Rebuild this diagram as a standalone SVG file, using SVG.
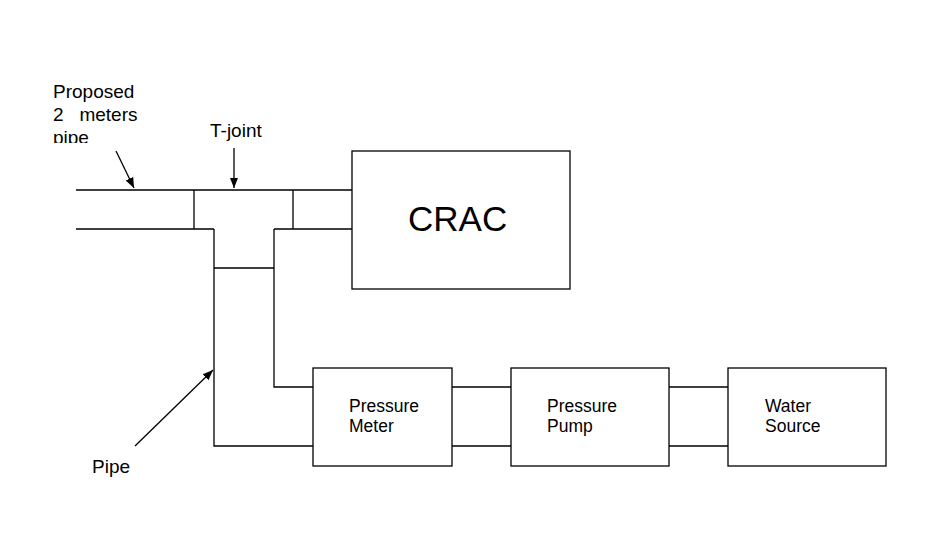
<svg xmlns="http://www.w3.org/2000/svg" width="925" height="557" viewBox="0 0 925 557">
<style>
.l{stroke:#000;stroke-width:1.3;fill:none}
.b{stroke:#000;stroke-width:1.3;fill:#fff}
text{font-family:"Liberation Sans",Arial,sans-serif;fill:#000}
.s{font-size:17.5px}
.o{font-size:19px}
</style>
<defs>
<marker id="a" viewBox="0 0 10 10" refX="10" refY="5" markerWidth="8" markerHeight="8" orient="auto"><path d="M0,1 L10,5 L0,9 z" fill="#000"/></marker>
<clipPath id="c"><rect x="0" y="0" width="200" height="143"/></clipPath>
</defs>
<rect width="925" height="557" fill="#fff"/>
<g id="connectors">
<path class="l" d="M76,190 H352 M76,229 H194 V190 M293,190 V229 M274,229 H352 M214,229 V446 H313 M274,229 V387 H313 M214,268 H274 M194,229 H214"/>
<path class="l" d="M452,387 H511 M452,446 H511 M669,387 H728 M669,446 H728"/>
<path class="l" d="M116,151 L134,188" marker-end="url(#a)"/>
<path class="l" d="M234,148 L234,188" marker-end="url(#a)"/>
<path class="l" d="M135,446 L213,370" marker-end="url(#a)"/>
</g>
<g id="labels">
<g clip-path="url(#c)">
<text class="o" x="53" y="98">Proposed</text>
<text class="o" x="53" y="121" xml:space="preserve">2   meters</text>
<text class="o" x="53" y="144">pipe</text>
</g>
<text class="o" x="210" y="137">T-joint</text>
<text class="o" x="92" y="473">Pipe</text>
</g>
<g id="crac"><rect class="b" x="352" y="151" width="218" height="138"/><text x="408" y="231" font-size="35">CRAC</text></g>
<g id="meter"><rect class="b" x="313" y="368" width="139" height="98"/><text class="s" x="349" y="412">Pressure</text><text class="s" x="349" y="432">Meter</text></g>
<g id="pump"><rect class="b" x="511" y="368" width="158" height="98"/><text class="s" x="547" y="412">Pressure</text><text class="s" x="547" y="432">Pump</text></g>
<g id="water"><rect class="b" x="728" y="368" width="158" height="98"/><text class="s" x="765" y="412">Water</text><text class="s" x="765" y="432">Source</text></g>
</svg>
